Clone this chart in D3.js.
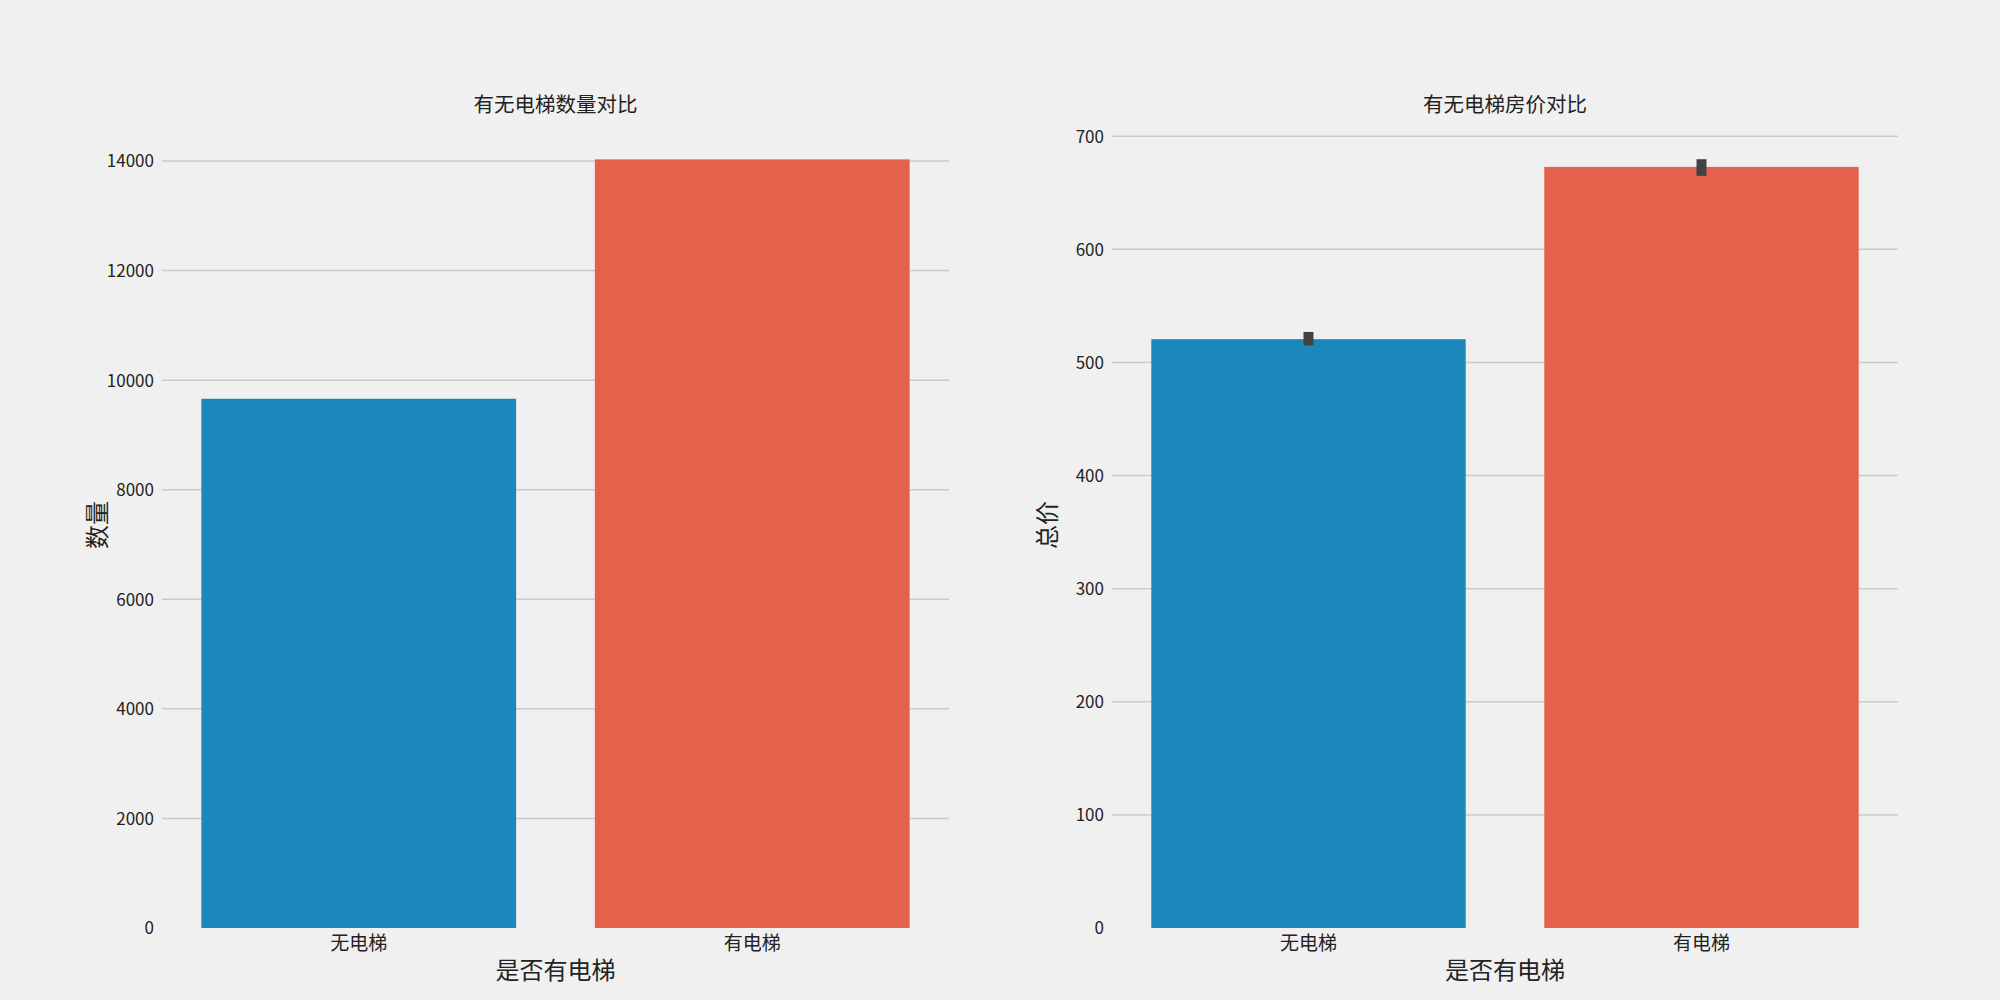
<!DOCTYPE html>
<html lang="zh">
<head>
<meta charset="utf-8">
<title>有无电梯对比</title>
<script src="https://d3js.org/d3.v7.min.js"></script>
<style>
  html, body { margin:0; padding:0; background:#f0f0f0; }
  body { font-family:"Noto Sans CJK SC", sans-serif; }
  .grid line { stroke:#cbcbcb; stroke-width:1.5; }
  .tick text { fill:#222; }
</style>
</head>
<body>
<div id="chart"></div>
<script>
// categories shared by both panels
var categories = ["无电梯", "有电梯"]
var barColors = ["#1b87bb", "#e4614b"]

// left: count of listings
var countValues = [9660, 14030]
var countTicks = [0, 2000, 4000, 6000, 8000, 10000, 12000, 14000]

// right: mean total price with CI
var priceValues = [520.6, 672.9]
var priceLow = [515, 665]
var priceHigh = [527, 679.7]
var priceTicks = [0, 100, 200, 300, 400, 500, 600, 700]

var W = 2000, H = 1000

var svg = d3.select("#chart").append("svg")
    .attr("width", W).attr("height", H)
svg.append("rect").attr("width", W).attr("height", H).attr("fill", "#f0f0f0")

function drawPanel(opt) {
    var x = d3.scaleBand().domain(categories).range([opt.x0, opt.x1])
        .paddingInner(0.2).paddingOuter(0.1)
    var y = d3.scaleLinear().domain([0, opt.ymax]).range([928, 121])

    var g = svg.append("g")

    // horizontal grid (the 0 line sits on the axes edge and is not shown)
    g.append("g").attr("class", "grid")
        .selectAll("line").data(opt.ticks.filter(function(d){ return d > 0 }))
        .enter().append("line")
        .attr("x1", opt.x0).attr("x2", opt.x1)
        .attr("y1", function(d){ return y(d) })
        .attr("y2", function(d){ return y(d) })

    // y axis
    var yAxis = d3.axisLeft(y).tickValues(opt.ticks).tickSize(0).tickPadding(8)
        .tickFormat(d3.format("d"))
    var ya = g.append("g").attr("transform", "translate(" + opt.x0 + ",0)").call(yAxis)
    ya.select(".domain").remove()
    ya.selectAll("text").attr("font-size", 17)
        .attr("font-family", "'Noto Sans CJK SC', sans-serif")
        .attr("dy", "0.35em")

    // bars
    g.selectAll(".bar").data(opt.values).enter().append("rect")
        .attr("class", "bar")
        .attr("x", function(d, i){ return x(categories[i]) })
        .attr("width", x.bandwidth())
        .attr("y", function(d){ return y(d) })
        .attr("height", function(d){ return y(0) - y(d) })
        .attr("fill", function(d, i){ return barColors[i] })

    // error bars
    if (opt.low) {
        g.selectAll(".err").data(opt.low).enter().append("line")
            .attr("class", "err")
            .attr("x1", function(d, i){ return x(categories[i]) + x.bandwidth() / 2 })
            .attr("x2", function(d, i){ return x(categories[i]) + x.bandwidth() / 2 })
            .attr("y1", function(d){ return y(d) })
            .attr("y2", function(d, i){ return y(opt.high[i]) })
            .attr("stroke", "#424242")
            .attr("stroke-width", 10)
    }

    // x axis
    var xAxis = d3.axisBottom(x).tickSize(0).tickPadding(8)
    var xa = g.append("g").attr("transform", "translate(0,928)").call(xAxis)
    xa.select(".domain").remove()
    xa.selectAll("text").attr("font-size", 19)
        .attr("font-family", "'Noto Sans CJK SC', sans-serif")

    var cx = (opt.x0 + opt.x1) / 2
    // title
    g.append("text").attr("x", cx).attr("y", 112)
        .attr("text-anchor", "middle").attr("font-size", 20.5).attr("fill", "#222")
        .text(opt.title)
    // x label
    g.append("text").attr("x", cx).attr("y", 979)
        .attr("text-anchor", "middle").attr("font-size", 24).attr("fill", "#222")
        .text("是否有电梯")
    // y label
    g.append("text")
        .attr("transform", "translate(" + (opt.x0 - 64) + ",525) rotate(-90)")
        .attr("text-anchor", "middle").attr("dy", "0.35em")
        .attr("font-size", 24).attr("fill", "#222")
        .text(opt.ylabel)
}

drawPanel({x0:162, x1:949, ymax:14730, ticks:countTicks, values:countValues,
    title:"有无电梯数量对比", ylabel:"数量"})
drawPanel({x0:1112, x1:1898, ymax:713.5, ticks:priceTicks, values:priceValues,
    low:priceLow, high:priceHigh, title:"有无电梯房价对比", ylabel:"总价"})
</script>
</body>
</html>
